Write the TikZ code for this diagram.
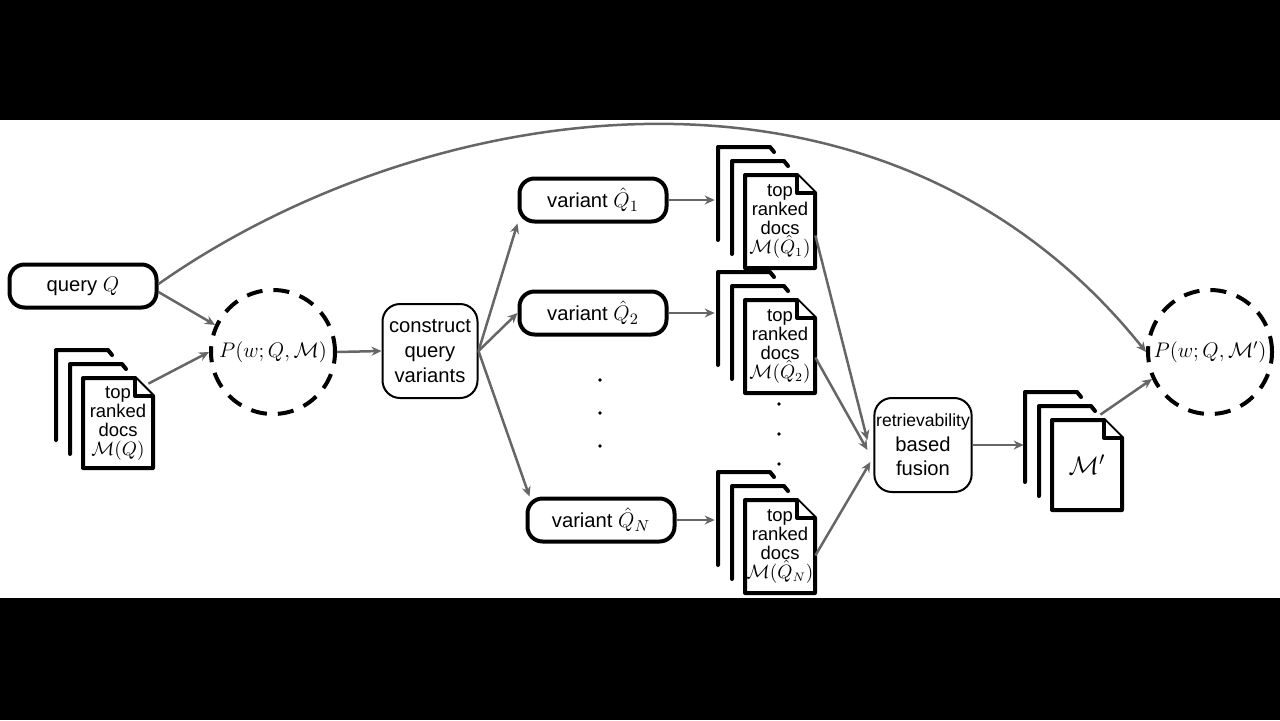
\documentclass[tikz,border=0pt]{standalone}
\usepackage{fontspec}
\setmainfont{Liberation Sans}
\usetikzlibrary{arrows.meta}
\begin{document}
\begin{tikzpicture}[x=0.02cm,y=-0.02cm,
  boxthick/.style={draw,line width=4*0.02cm,rounded corners=0.3cm,minimum height=43*0.02cm,font=\fontsize{11.5}{13}\selectfont},
  boxthin/.style={draw,line width=2*0.02cm,rounded corners=0.35cm,minimum width=95*0.02cm,minimum height=94*0.02cm,align=center,inner sep=1pt,font=\fontsize{11.5}{14}\selectfont},
  dashcirc/.style={circle,draw,line width=4*0.02cm,dash pattern=on 16*0.02cm off 11*0.02cm,minimum size=124*0.02cm,inner sep=0pt,font=\fontsize{12}{14}\selectfont},
  page/.style={line width=4*0.02cm,line join=round,line cap=round,fill=white},
  doctext/.style={inner sep=0pt,align=center,font=\fontsize{10.5}{10.8}\selectfont},
  conn/.style={draw=black!60,line width=2.5*0.02cm,-{Stealth[length=10*0.02cm,width=9*0.02cm]}}]
\newcommand\docstack[5]{%
  \draw[page] (#2-27,#3-28+#4) -- (#2-27,#3-28) -- (#2+25,#3-28) -- (#2+29,#3-23);
  \draw[page] (#2-13,#3-14+#4) -- (#2-13,#3-14) -- (#2+39,#3-14) -- (#2+43,#3-9);
  \draw[page] (#2,#3) -- (#2+52,#3) -- (#2+70,#3+18) -- (#2+70,#3+#4) -- (#2,#3+#4) -- cycle;
  \draw[page] (#2+52,#3) -- (#2+52,#3+18) -- (#2+70,#3+18);
  \node[doctext,minimum width=70*0.02cm,minimum height=#4*0.02cm] (#1) at (#2+35,#3+#4/2) {#5};}
\fill[black] (0,0) rectangle (1280,120);
\fill[black] (0,598) rectangle (1280,720);
\useasboundingbox (0,0) rectangle (1280,720);

\node[boxthick,minimum width=147*0.02cm] (q) at (83,286) {query \fontsize{13}{13}\selectfont$Q$};
\node[dashcirc] (p) at (273,352) {$P(w;Q,\mathcal{M})$};
\node[boxthin] (c) at (430,351) {construct\\query\\variants};
\node[boxthick,minimum width=147*0.02cm] (v1) at (593,200) {variant \fontsize{13}{13}\selectfont$\hat{Q}_1$};
\node[boxthick,minimum width=147*0.02cm] (v2) at (593,313) {variant \fontsize{13}{13}\selectfont$\hat{Q}_2$};
\node[boxthick,minimum width=147*0.02cm] (vn) at (601,520) {variant \fontsize{13}{13}\selectfont$\hat{Q}_N$};
\foreach \yy in {380,413,446} \fill (600,\yy) circle (1.8);
\foreach \yy in {404,434,464} \fill (779,\yy) circle (1.8);

\docstack{d0}{83}{378}{90}{top\\ranked\\docs\\$\mathcal{M}(Q)$}
\docstack{d1}{745}{175}{93}{top\\ranked\\docs\\$\mathcal{M}(\hat{Q}_1)$}
\docstack{d2}{745}{300}{93}{top\\ranked\\docs\\$\mathcal{M}(\hat{Q}_2)$}
\docstack{dn}{745}{500}{93}{top\\ranked\\docs\\$\mathcal{M}(\hat{Q}_N)$}
\docstack{dm}{1052}{420}{90}{\fontsize{15}{16}\selectfont$\mathcal{M}'$}

\node[boxthin] (f) at (923,445) {{\fontsize{10}{12}\selectfont retrievability}\\based\\fusion};
\node[dashcirc] (pp) at (1210,352) {$P(w;Q,\mathcal{M}')$};

\draw[conn] ([yshift=-6*0.02cm]q.east) -- (p.155);
\draw[conn] ([xshift=-5*0.02cm,yshift=-6*0.02cm]d0.north east) -- (p.west);
\draw[conn] (p.east) -- (c.west);
\draw[conn] (c.east) -- (v1.south west);
\draw[conn] (c.east) -- (v2.west);
\draw[conn] (c.east) -- ([xshift=4*0.02cm]vn.north west);
\draw[conn] (v1.east) -- ([xshift=-30*0.02cm]d1.west |- v1.east);
\draw[conn] (v2.east) -- ([xshift=-30*0.02cm]d2.west |- v2.east);
\draw[conn] (vn.east) -- ([xshift=-30*0.02cm]dn.west |- vn.east);
\draw[conn] ([yshift=-14*0.02cm]d1.east) -- ([xshift=-6*0.02cm,yshift=5*0.02cm]f.west);
\draw[conn] ([yshift=-11*0.02cm]d2.east) -- ([xshift=-6*0.02cm,yshift=-5*0.02cm]f.west);
\draw[conn] ([yshift=-9*0.02cm]dn.east) -- ([xshift=-3*0.02cm,yshift=-17*0.02cm]f.west);
\draw[conn] (f.east) -- ([xshift=-28*0.02cm]dm.west |- f.east);
\draw[conn] ([xshift=-22*0.02cm,yshift=5*0.02cm]dm.north east) -- (pp.205);
\draw[conn] ([yshift=2*0.02cm]q.east) .. controls (420,100) and (880,20) .. (pp.west);
\end{tikzpicture}
\end{document}
